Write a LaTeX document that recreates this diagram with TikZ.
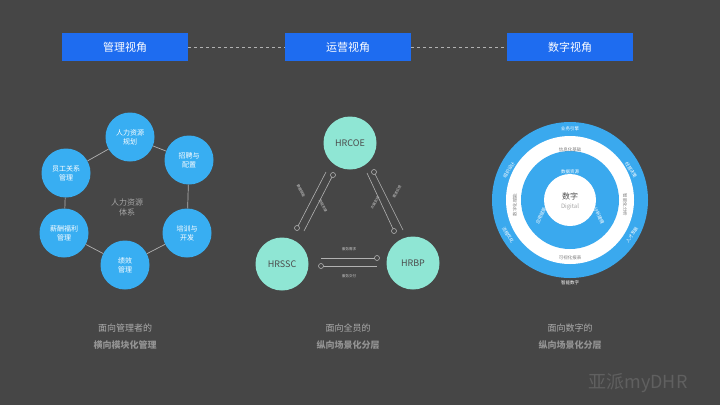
\documentclass[tikz,border=0pt]{standalone}
\usepackage{fontspec}
\setmainfont{Noto Sans CJK SC}
\begin{document}
\begin{tikzpicture}[x=1pt,y=-1pt,
  hdr/.style={fill=hblue,minimum width=126pt,minimum height=28pt,text=white,font=\fontsize{11}{13}\selectfont},
  bc/.style={circle,fill=cblue,minimum size=49pt,inner sep=0pt,text=white,align=center,font=\fontsize{7}{9}\selectfont},
  tc/.style={circle,fill=teal1,minimum size=53pt,inner sep=0pt,text=black!70,font=\fontsize{9}{11}\selectfont},
  tiny/.style={font=\fontsize{4.5}{5}\selectfont,text=white,inner sep=0.5pt},
  tg/.style={font=\fontsize{3.5}{4}\selectfont,text=gray!40,inner sep=0.5pt},
  cap1/.style={text=gray!65,font=\fontsize{9}{11}\selectfont},
  cap2/.style={text=gray!85,font=\bfseries\fontsize{9}{11}\selectfont},
  ln/.style={draw=gray!60,line width=0.6pt}]
\definecolor{bg}{HTML}{464646}
\definecolor{hblue}{HTML}{1E6CF0}
\definecolor{cblue}{HTML}{38AEF2}
\definecolor{teal1}{HTML}{8FE6D4}
\definecolor{rblue}{HTML}{3AA9EE}
\fill[bg] (0,0) rectangle (720,405);
\useasboundingbox (0,0) rectangle (720,405);
% headers
\node[hdr] (h1) at (125,47) {管理视角};
\node[hdr] (h2) at (348,47) {运营视角};
\node[hdr] (h3) at (570,47) {数字视角};
\draw[gray!60,dashed,line width=0.8pt] (h1) -- (h2);
\draw[gray!60,dashed,line width=0.8pt] (h2) -- (h3);
% left
\node[text=gray!70,align=center,font=\fontsize{8}{10}\selectfont] (lc) at (127,207) {人力资源\\体系};
\node[bc] (a1) at (130,137) {人力资源\\规划};
\node[bc] (a2) at (189,160) {招聘与\\配置};
\node[bc] (a3) at (187,233) {培训与\\开发};
\node[bc] (a4) at (125,265) {绩效\\管理};
\node[bc] (a5) at (64,233) {薪酬福利\\管理};
\node[bc] (a6) at (66,173) {员工关系\\管理};
\foreach \p/\q in {a1/a2,a2/a3,a3/a4,a4/a5,a5/a6,a6/a1} \draw[gray!60,line width=0.7pt] (\p) -- (\q);
\node[cap1] (l1) at (125,328) {面向管理者的};
\node[cap2] (l2) at (125,345) {横向模块化管理};
% middle
\node[tc] (co) at (350,143) {HRCOE};
\node[tc] (ss) at (282,264) {HRSSC};
\node[tc] (bp) at (413,263) {HRBP};
\coordinate (c1a) at (326,172); \coordinate (c1b) at (297,228);
\coordinate (c2a) at (333,175); \coordinate (c2b) at (304,231);
\coordinate (c3a) at (367,173); \coordinate (c3b) at (394,231);
\coordinate (c4a) at (374,172); \coordinate (c4b) at (403,230);
\coordinate (c5a) at (321,258); \coordinate (c5b) at (377,258);
\coordinate (c6a) at (321,266); \coordinate (c6b) at (377,266);
\foreach \p/\q in {c1a/c1b,c2a/c2b,c3a/c3b,c4a/c4b,c5a/c5b,c6a/c6b} \draw[ln] (\p) -- (\q);
\foreach \c in {c1b,c2a,c3b,c4a,c5b,c6a} \draw[ln,fill=bg] (\c) circle (2.5);
\node[tg,rotate=-62] (t1) at (301,191) {数据赋能};
\node[tg,rotate=-62] (t2) at (323,206) {流程支撑};
\node[tg,rotate=62] (t3) at (375,203) {方案支持};
\node[tg,rotate=62] (t4) at (397,192) {需求反馈};
\node[tg] (t5) at (349,249) {服务需求};
\node[tg] (t6) at (349,276) {服务交付};
% right
\fill[rblue] (570,200) circle (78);
\fill[white] (570,200) circle (64);
\fill[rblue] (570,200) circle (49);
\fill[white] (570,200) circle (26);
\node[font=\fontsize{8}{9}\selectfont,text=black!70] (d1) at (570,196) {数字};
\node[font=\fontsize{6}{7}\selectfont,text=gray!70] (d2) at (570,207) {Digital};
\node[tiny] at (570,129) {业务引擎};
\node[tiny] at (570,283) {智能数字};
\node[tiny,rotate=-58] at (631,170) {经营决策};
\node[tiny,rotate=58] at (632,235) {人才发展};
\node[tiny,rotate=58] at (509,170) {组织设计};
\node[tiny,rotate=-58] at (508,235) {流程优化};
\node[tiny,text=gray] at (570,150) {信息化基础};
\node[tiny,text=gray] at (570,258) {可视化报表};
\node[tiny,text=gray,rotate=-90] at (625,205) {智能化分析};
\node[tiny,text=gray,rotate=90] at (515,205) {数字化赋能};
\node[tiny] at (570,172) {数据资源};
\node[tiny,rotate=65] at (541,216) {应用赋能};
\node[tiny,rotate=-65] at (599,216) {分析建模};
\node[cap1] (r1) at (570,328) {面向数字的};
\node[cap2] (r2) at (570,345) {纵向场景化分层};
\node[cap1] (m1) at (348,328) {面向全员的};
\node[cap2] (m2) at (348,345) {纵向场景化分层};
\node[text=gray!45!bg,font=\fontsize{18}{20}\selectfont] (wm) at (638,383) {亚派myDHR};
\end{tikzpicture}
\end{document}
